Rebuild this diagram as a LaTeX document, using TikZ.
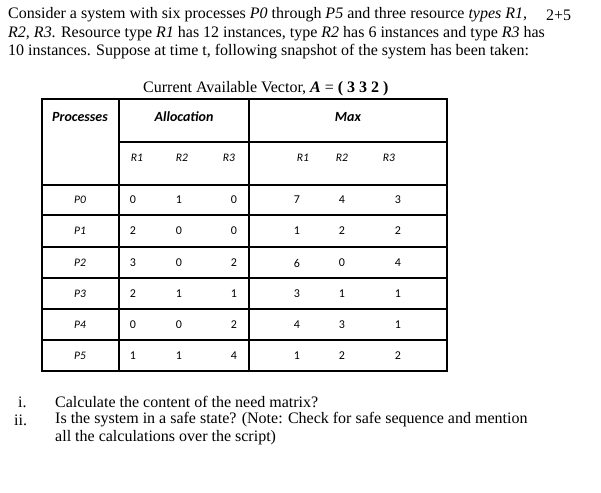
\documentclass[tikz,border=0pt]{standalone}
\usepackage{fontspec}
\setmainfont{Liberation Serif}
\newfontfamily\calfont{Carlito}
\begin{document}
\begin{tikzpicture}[x=1pt,y=-1pt,
  txt/.style={anchor=west,inner sep=0,font=\fontsize{16}{19}\selectfont},
  hd/.style={inner sep=0,font=\calfont\fontsize{14}{16}\selectfont\bfseries\itshape},
  sh/.style={inner sep=0,font=\calfont\fontsize{11.5}{13}\selectfont\itshape},
  num/.style={inner sep=0,font=\calfont\fontsize{12}{14}\selectfont},
  grid/.style={line width=2pt}]
\useasboundingbox (0,0) rectangle (601,492);
\node[txt] (l1) at (8,15) {Consider a system with six processes \textit{P0} through \textit{P5} and three resource \textit{types R1,}};
\node[txt] (pts) at (546,15) {2+5};
\node[txt] (l2) at (8,34) {\textit{R2, R3}. Resource type \textit{R1} has 12 instances, type \textit{R2} has 6 instances and type \textit{R3} has};
\node[txt] (l3) at (8,52) {10 instances. Suppose at time t, following snapshot of the system has been taken:};
\node[txt] (cav) at (143,89) {Current Available Vector, \textbf{\textit{A}} = \textbf{( 3 3 2 )}};
% table
\draw[grid] (42,99) rectangle (447,371);
\draw[grid] (119,99) -- (119,371);
\draw[grid] (249,99) -- (249,371);
\draw[grid] (119,142) -- (447,142);
\foreach \y in {185,215,247,278,309,340} \draw[grid] (42,\y) -- (447,\y);
\node[hd] (hp) at (80,117) {Processes};
\node[hd] (ha) at (184,117) {Allocation};
\node[hd] (hm) at (348,117) {Max};
\node[sh] (s1) at (137,158) {R1}; \node[sh] (s2) at (182,158) {R2}; \node[sh] (s3) at (229,158) {R3};
\node[sh] (s4) at (303,158) {R1}; \node[sh] (s5) at (342,158) {R2}; \node[sh] (s6) at (389,158) {R3};
\foreach \p/\y/\a/\b/\c/\d/\e/\f in {0/200/0/1/0/7/4/3,1/231/2/0/0/1/2/2,2/263/3/0/2/6/0/4,3/294/2/1/1/3/1/1,4/325/0/0/2/4/3/1,5/356/1/1/4/1/2/2}{
  \node[sh] (p\p) at (80,\y) {P\p};
  \node[num] (a\p) at (133,\y) {\a};
  \node[num] (b\p) at (179,\y) {\b};
  \node[num] (c\p) at (234,\y) {\c};
  \node[num] (d\p) at (297,\y) {\d};
  \node[num] (e\p) at (342,\y) {\e};
  \node[num] (f\p) at (398,\y) {\f};
}
\node[txt] (i1) at (18,402) {i.};
\node[txt] (i2) at (14,420) {ii.};
\node[txt] (t1) at (55,402) {Calculate the content of the need matrix?};
\node[txt] (t2) at (55,420) {Is the system in a safe state? (Note: Check for safe sequence and mention};
\node[txt] (t3) at (55,438) {all the calculations over the script)};
\end{tikzpicture}
\end{document}
